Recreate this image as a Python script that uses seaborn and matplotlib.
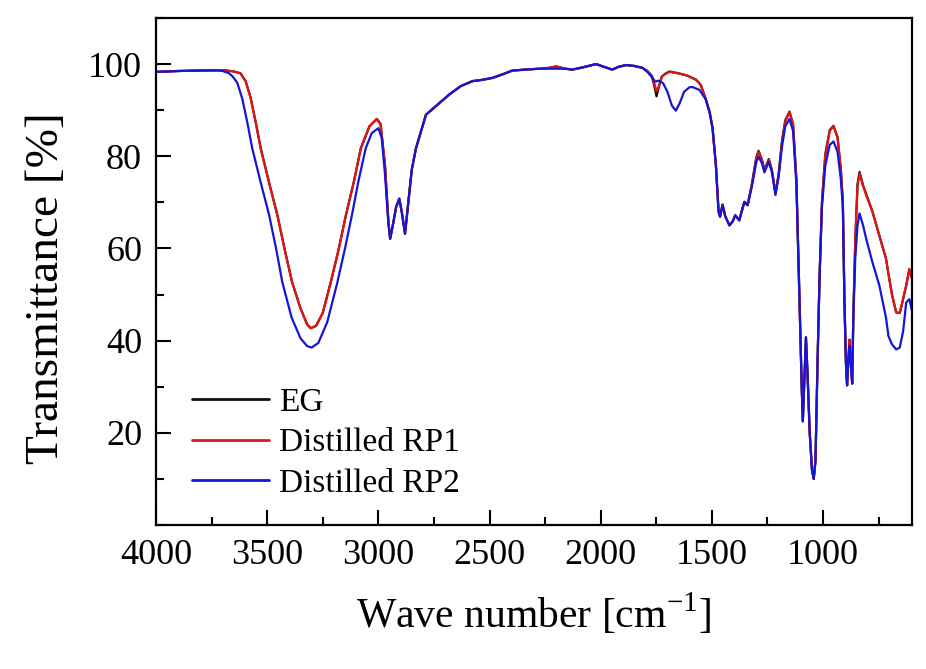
import numpy as np
import pandas as pd
import matplotlib
matplotlib.use("Agg")
import matplotlib.pyplot as plt
import seaborn as sns
from matplotlib.ticker import MultipleLocator

# ---------------- data ----------------
# EG and Distilled RP1 share one wavenumber grid
wn_red = [4000, 3900, 3800, 3720, 3680, 3650, 3620, 3597, 3575, 3550, 3529, 3490,
          3454, 3420, 3388, 3350, 3320, 3304, 3280, 3250, 3214, 3180, 3146, 3110,
          3079, 3040, 3007, 2990, 2970, 2955, 2947, 2935, 2920, 2906, 2895, 2880,
          2865, 2850, 2831, 2786, 2741, 2681, 2630, 2577, 2530, 2487, 2440, 2397,
          2340, 2276, 2230, 2201, 2160, 2128, 2080, 2021, 1990, 1948, 1920, 1886,
          1850, 1813, 1790, 1770, 1760, 1749, 1740, 1725, 1710, 1691, 1650, 1610,
          1571, 1550, 1527, 1510, 1497, 1482, 1470, 1463, 1452, 1440, 1421, 1405,
          1395, 1377, 1354, 1339, 1320, 1300, 1290, 1275, 1264, 1244, 1230, 1214,
          1200, 1185, 1170, 1151, 1135, 1120, 1106, 1096, 1091, 1083, 1077, 1070,
          1060, 1050, 1042, 1034, 1025, 1016, 1005, 990, 970, 953, 935, 920,
          911, 904, 897, 892, 886, 881, 875, 869, 864, 855, 845, 836,
          820, 806, 778, 747, 717, 706, 690, 671, 655, 640, 626, 612,
          600]

eg = [98.3, 98.5, 98.6, 98.7, 98.6, 98.4, 98.0, 96.3, 92.8, 87.0, 81.7, 74.0,
      67.2, 59.5, 52.7, 47.0, 43.5, 42.7, 43.2, 46.0, 52.7, 59.5, 67.2, 74.5,
      81.7, 86.5, 88.1, 87.0, 78.0, 66.0, 62.1, 65.0, 69.0, 70.8, 68.0, 63.2,
      70.0, 77.0, 81.7, 89.0, 90.9, 93.4, 95.2, 96.3, 96.6, 97.0, 97.8, 98.6,
      98.8, 99.0, 99.2, 99.5, 99.0, 98.8, 99.3, 100.0, 99.5, 98.8, 99.4, 99.8,
      99.6, 99.2, 98.5, 97.3, 95.5, 93.0, 94.8, 97.3, 97.9, 98.4, 98.0, 97.5,
      96.6, 95.5, 92.3, 89.5, 86.1, 78.1, 68.0, 66.9, 69.5, 67.0, 65.0, 66.0,
      67.2, 66.1, 70.1, 69.4, 74.0, 79.8, 81.2, 79.3, 77.0, 79.4, 77.0, 72.0,
      76.0, 83.2, 87.8, 89.7, 87.0, 75.0, 49.0, 30.0, 22.5, 33.0, 40.7, 33.0,
      20.0, 12.0, 10.0, 14.0, 35.0, 53.4, 70.0, 80.5, 85.7, 86.6, 84.2, 77.2,
      70.2, 49.0, 35.0, 30.3, 36.0, 40.2, 35.0, 30.7, 45.0, 62.0, 74.0, 76.6,
      73.7, 71.8, 68.0, 62.8, 57.8, 54.5, 50.0, 46.1, 46.0, 49.0, 52.0, 55.5,
      53.5]

rp1 = [98.3, 98.5, 98.6, 98.7, 98.6, 98.4, 98.0, 96.3, 92.8, 87.0, 81.7, 74.0,
       67.2, 59.5, 52.7, 47.0, 43.5, 42.7, 43.2, 46.0, 52.7, 59.5, 67.2, 74.5,
       81.7, 86.5, 88.1, 87.0, 78.0, 66.0, 62.1, 65.0, 69.0, 70.8, 68.0, 63.2,
       70.0, 77.0, 81.7, 89.0, 90.9, 93.4, 95.2, 96.3, 96.6, 97.0, 97.8, 98.6,
       98.8, 99.0, 99.2, 99.5, 99.0, 98.8, 99.3, 100.0, 99.5, 98.8, 99.4, 99.8,
       99.6, 99.2, 98.5, 97.5, 96.0, 94.1, 95.0, 97.3, 97.8, 98.3, 98.0, 97.5,
       96.6, 95.5, 92.3, 89.5, 86.1, 78.1, 68.0, 66.9, 69.5, 67.0, 65.0, 66.0,
       67.2, 66.1, 70.1, 69.4, 74.0, 79.6, 81.0, 79.2, 76.8, 79.2, 77.0, 71.9,
       76.0, 83.0, 87.5, 89.6, 87.0, 75.0, 49.0, 30.0, 22.5, 33.0, 40.7, 33.0,
       20.0, 12.0, 10.0, 14.0, 35.0, 53.4, 70.0, 80.0, 85.5, 86.5, 84.0, 77.0,
       70.0, 49.0, 35.0, 30.3, 36.0, 40.0, 35.0, 30.7, 45.0, 62.0, 73.5, 76.3,
       73.5, 71.6, 68.0, 62.8, 57.8, 54.5, 50.0, 46.1, 46.0, 49.0, 52.0, 55.5,
       53.5]

wn_blue = [4000, 3900, 3800, 3720, 3700, 3671, 3655, 3635, 3612, 3590, 3567, 3530,
           3491, 3460, 3432, 3390, 3350, 3320, 3300, 3270, 3230, 3184, 3150, 3119,
           3090, 3057, 3030, 3000, 2985, 2970, 2955, 2947, 2935, 2920, 2906, 2895,
           2880, 2865, 2850, 2831, 2786, 2741, 2681, 2630, 2577, 2530, 2487, 2440,
           2397, 2340, 2276, 2230, 2201, 2160, 2128, 2080, 2021, 1990, 1948, 1920,
           1886, 1850, 1813, 1790, 1770, 1755, 1740, 1720, 1700, 1680, 1662, 1645,
           1625, 1600, 1586, 1556, 1527, 1510, 1497, 1482, 1470, 1463, 1452, 1440,
           1421, 1405, 1395, 1377, 1354, 1339, 1320, 1300, 1290, 1275, 1264, 1244,
           1230, 1214, 1200, 1185, 1170, 1151, 1135, 1120, 1106, 1096, 1091, 1083,
           1077, 1070, 1060, 1050, 1042, 1034, 1025, 1016, 1005, 990, 970, 953,
           935, 920, 911, 904, 897, 892, 886, 881, 875, 869, 864, 855,
           845, 836, 820, 806, 778, 747, 717, 706, 690, 671, 655, 640,
           626, 612, 600]

rp2 = [98.3, 98.5, 98.6, 98.6, 98.5, 98.0, 97.3, 96.0, 92.5, 87.5, 81.7, 74.5,
       67.2, 60.0, 52.7, 45.0, 40.5, 38.8, 38.5, 39.5, 44.0, 52.7, 60.0, 67.2,
       74.5, 81.7, 85.0, 86.1, 84.0, 76.0, 65.5, 62.1, 65.0, 69.0, 70.8, 68.0,
       63.2, 70.0, 77.0, 81.7, 89.0, 90.9, 93.4, 95.2, 96.3, 96.6, 97.0, 97.8,
       98.6, 98.8, 99.0, 99.0, 99.0, 99.0, 98.8, 99.3, 100.0, 99.5, 98.8, 99.4,
       99.8, 99.6, 99.2, 98.3, 97.2, 96.2, 96.4, 95.9, 94.0, 91.0, 89.9, 91.5,
       94.0, 95.0, 95.0, 94.4, 92.3, 89.5, 86.1, 78.1, 68.0, 66.9, 69.5, 67.0,
       65.0, 66.0, 67.2, 66.1, 70.1, 69.4, 73.5, 78.8, 79.9, 78.5, 76.5, 78.8,
       76.5, 71.6, 75.5, 82.0, 86.5, 88.1, 85.5, 74.0, 49.0, 30.0, 22.5, 33.0,
       40.7, 33.0, 20.0, 12.0, 10.0, 14.0, 35.0, 53.4, 69.0, 78.0, 82.5, 83.2,
       81.0, 75.0, 69.0, 49.0, 35.0, 30.3, 36.0, 38.9, 35.0, 30.7, 45.0, 58.0,
       65.0, 67.6, 65.0, 62.1, 57.0, 52.0, 45.0, 41.0, 39.2, 38.1, 38.5, 42.0,
       48.3, 49.0, 46.5]

labels = ["EG", "Distilled RP1", "Distilled RP2"]
colors = ["#111111", "#e01515", "#1515d8"]
x_ticks = [4000, 3500, 3000, 2500, 2000, 1500, 1000]
y_ticks = [20, 40, 60, 80, 100]

# ---------------- build long table ----------------
df = pd.concat([
    pd.DataFrame({"wn": wn_red, "T": eg, "sample": labels[0]}),
    pd.DataFrame({"wn": wn_red, "T": rp1, "sample": labels[1]}),
    pd.DataFrame({"wn": wn_blue, "T": rp2, "sample": labels[2]}),
], ignore_index=True)

sns.set_theme(style="ticks")
plt.rcParams["font.family"] = ["Liberation Serif", "DejaVu Serif"]
plt.rcParams["mathtext.fontset"] = "custom"
plt.rcParams["mathtext.rm"] = "Liberation Serif"
plt.rcParams["text.color"] = "black"
plt.rcParams["axes.labelcolor"] = "black"
plt.rcParams["xtick.color"] = "black"
plt.rcParams["ytick.color"] = "black"

fig = plt.figure(figsize=(9.26, 6.69), dpi=100)
ax = fig.add_axes([156 / 926, 1 - 525 / 669, 756 / 926, 507 / 669])

sns.lineplot(data=df, x="wn", y="T", hue="sample", hue_order=labels,
             palette=dict(zip(labels, colors)), sort=False, estimator=None,
             linewidth=1.6, ax=ax)

ax.set_xlim(4000, 600)
ax.set_ylim(0, 110)
ax.set_xticks(x_ticks)
ax.set_yticks(y_ticks)
ax.xaxis.set_minor_locator(MultipleLocator(250))
ax.yaxis.set_minor_locator(MultipleLocator(10))

ax.tick_params(which="major", direction="in", length=11, width=1.5,
               labelsize=26, pad=10, top=False, right=False,
               colors="black", labelcolor="black")
ax.tick_params(which="minor", direction="in", length=6, width=1.5,
               top=False, right=False, colors="black")
for s in ax.spines.values():
    s.set_linewidth(1.6)
    s.set_color("black")

ax.set_xlabel(r"Wave number [cm$^{\mathregular{-1}}$]", fontsize=30,
              labelpad=14, color="black")
ax.set_ylabel("Transmittance [%]", fontsize=34, color="black")
ax.yaxis.set_label_coords(-0.117, 0.467)

leg = ax.legend(loc="lower left", bbox_to_anchor=(0.03, 0.025), frameon=False,
                fontsize=24, handlelength=2.3, handletextpad=0.3,
                labelspacing=0.3, borderaxespad=0)
for h in leg.get_lines():
    h.set_linewidth(2.0)
for t in leg.get_texts():
    t.set_color("black")

fig.savefig("out.png", dpi=100)
